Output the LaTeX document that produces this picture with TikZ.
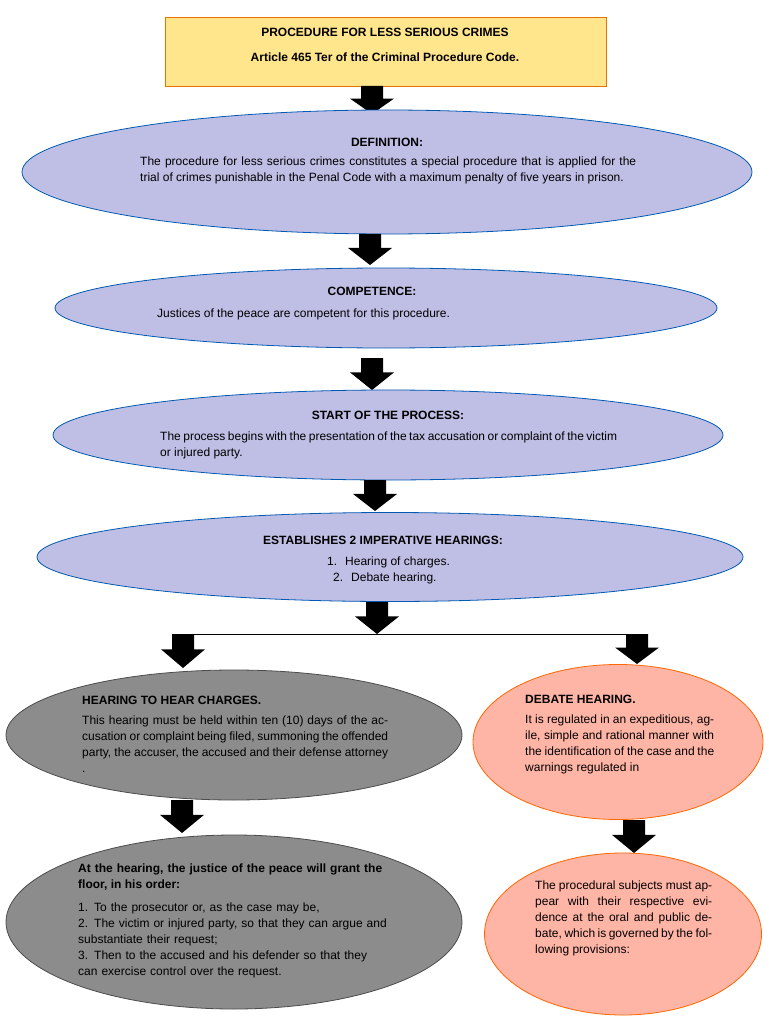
\documentclass[tikz,border=0pt]{standalone}
\usepackage{fontspec}
\setmainfont{Liberation Sans}
\begin{document}
\begin{tikzpicture}[x=1pt,y=-1pt,
  blue/.style={ellipse,draw=blue!50!cyan!70!black,line width=0.8pt,fill=cyan!20!blue!25!white,inner sep=0pt},
  gray/.style={ellipse,draw=black!70,line width=0.8pt,fill=black!45,inner sep=0pt},
  salmon/.style={ellipse,draw=orange!80!red,line width=0.8pt,fill=orange!35!red!35!white,inner sep=0pt},
  txt/.style={align=justify,font=\fontsize{12}{16}\selectfont,inner sep=0pt,anchor=north west},
  hd/.style={font=\fontsize{12}{16}\selectfont\bfseries,inner sep=0pt}]
\usetikzlibrary{shapes.geometric}
\useasboundingbox (0,0) rectangle (768,1024);
\newcommand{\barrow}[3]{\fill[black] (#1-11,#2) -- (#1+11,#2) -- (#1+11,{#2+(#3-#2)*0.45}) -- (#1+22,{#2+(#3-#2)*0.45}) -- (#1,#3) -- (#1-22,{#2+(#3-#2)*0.45}) -- (#1-11,{#2+(#3-#2)*0.45}) -- cycle;}
% title
\node[draw=orange!90!black,fill=orange!45!yellow!45!white,line width=0.8pt,minimum width=441,minimum height=69,inner sep=0pt] (title) at (385.5,51.5) {};
\node[hd] at (385,32) {PROCEDURE FOR LESS SERIOUS CRIMES};
\node[hd] at (385,57) {Article 465 Ter of the Criminal Procedure Code.};
\barrow{372}{86}{114}
% definition
\node[blue,minimum width=730,minimum height=124] (def) at (387,172) {};
\node[hd] at (387,142) {DEFINITION:};
\node[txt,text width=496] at (140,157) {The procedure for less serious crimes constitutes a special procedure that is applied for the trial of crimes punishable in the Penal Code with a maximum penalty of five years in prison.};
\barrow{370}{234}{265}
% competence
\node[blue,minimum width=662,minimum height=80] (comp) at (386,308) {};
\node[hd] at (372,291) {COMPETENCE:};
\node[txt,anchor=west] at (157,314) {Justices of the peace are competent for this procedure.};
\barrow{372}{358}{390}
% start
\node[blue,minimum width=670,minimum height=90] (start) at (388,435) {};
\node[hd] at (388,415) {START OF THE PROCESS:};
\node[txt,text width=457] at (160,432) {The process begins with the presentation of the tax accusation or complaint of the victim or injured party.};
\barrow{375}{480}{511}
% establishes
\node[blue,minimum width=706,minimum height=89] (est) at (390,557) {};
\node[hd] at (383,540) {ESTABLISHES 2 IMPERATIVE HEARINGS:};
\node[txt,anchor=west] at (327,562) {1.\hspace{8pt}Hearing of charges.};
\node[txt,anchor=west] at (333,578) {2.\hspace{8pt}Debate hearing.};
\barrow{377}{602}{634}
\coordinate (l) at (172,634); \coordinate (r) at (637,634);
\draw[line width=1pt] (l) -- (r);
\barrow{183}{634}{668}
\barrow{637}{634}{664}
% gray 1
\node[gray,minimum width=456,minimum height=130] (g1) at (234,735) {};
\node[hd,anchor=west] at (82,700) {HEARING TO HEAR CHARGES.};
\node[txt,text width=306] at (82,716) {This hearing must be held within ten (10) days of the accusation or complaint being filed, summoning the offended party, the accuser, the accused and their defense attorney .};
\barrow{182}{800}{833}
% gray 2
\node[gray,minimum width=456,minimum height=174] (g2) at (234,922) {};
\node[txt,text width=304,font=\fontsize{12}{16}\selectfont\bfseries] at (78,864) {At the hearing, the justice of the peace will grant the floor, in his order:};
\node[txt,text width=310,align=left] at (78,903) {1. To the prosecutor or, as the case may be,\\2. The victim or injured party, so that they can argue and substantiate their request;\\3. Then to the accused and his defender so that they can exercise control over the request.};
% salmon 1
\node[salmon,minimum width=290,minimum height=155] (s1) at (618,742) {};
\node[hd,anchor=west] at (525,699) {DEBATE HEARING.};
\node[txt,text width=189] at (525,715) {It is regulated in an expeditious, agile, simple and rational manner with the identification of the case and the warnings regulated in};
\barrow{634}{820}{853}
% salmon 2
\node[salmon,minimum width=277,minimum height=162] (s2) at (623,934) {};
\node[txt,text width=177] at (535,881) {The procedural subjects must appear with their respective evidence at the oral and public debate, which is governed by the following provisions:};
\end{tikzpicture}
\end{document}
